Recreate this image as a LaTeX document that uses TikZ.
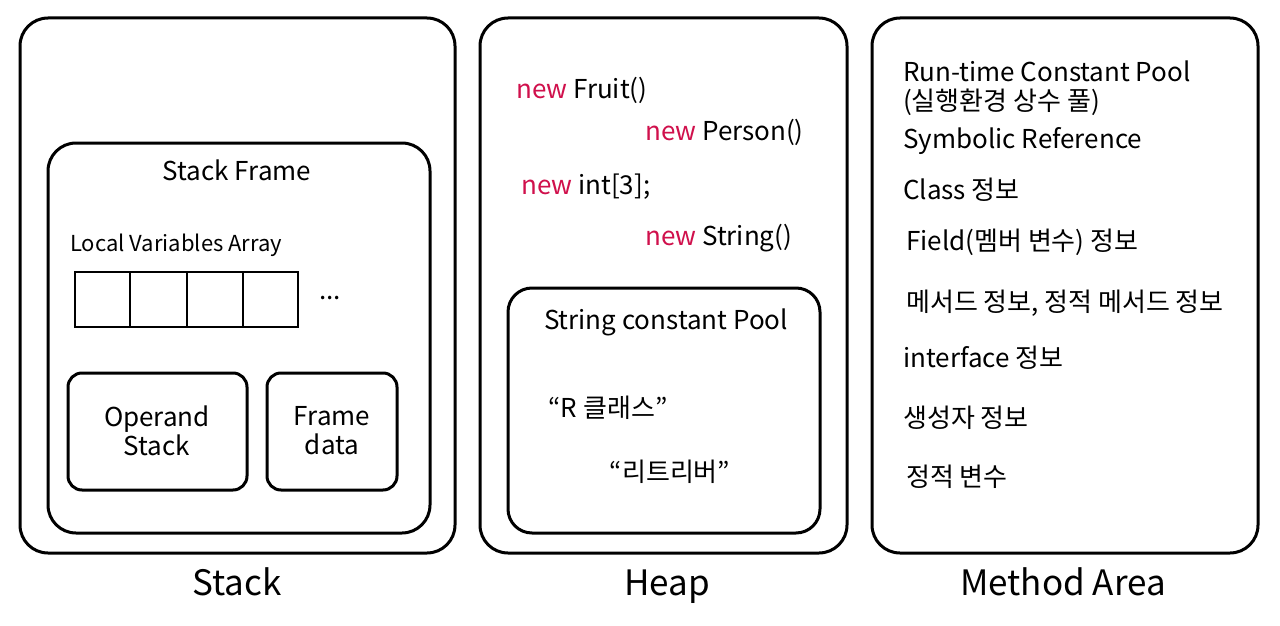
\documentclass[tikz,border=0pt]{standalone}
\usepackage{fontspec}
\setmainfont{Noto Sans CJK KR}
\begin{document}
\begin{tikzpicture}[x=1pt,y=-1pt,
  box/.style={draw=black,line width=3pt,rounded corners=28pt},
  cell/.style={draw=black,line width=2pt},
  txt/.style={font=\fontsize{26}{29}\selectfont,inner sep=0pt},
  big/.style={font=\fontsize{35}{40}\selectfont,inner sep=0pt,anchor=base}]
\definecolor{kw}{HTML}{D0104C}
\useasboundingbox[fill=white] (0,0) rectangle (1280,626);
% Stack
\draw[box] (20,18) rectangle (455,553);
\draw[box] (48,143) rectangle (430,533);
\node[txt] (sf) at (237,170) {Stack Frame};
\node[txt,anchor=west,font=\fontsize{22}{26}\selectfont] (lva) at (70,245) {Local Variables Array};
\foreach \a/\b in {75/130,130/187,187/243,243/298}{\draw[cell] (\a,272) rectangle (\b,327);}
\node[txt] (dots) at (330,298) {...};
\draw[box,rounded corners=14pt] (68,373) rectangle (247,490);
\node[txt,align=center] (os) at (157,431) {Operand\\Stack};
\draw[box,rounded corners=14pt] (267,373) rectangle (397,490);
\node[txt,align=center] (fd) at (332,431) {Frame\\data};
\node[big] (ls) at (237,595) {Stack};
% Heap
\draw[box] (480,18) rectangle (847,553);
\node[txt,anchor=west] (n1) at (516,90) {\textcolor{kw}{new} Fruit()};
\node[txt,anchor=west] (n2) at (645,132) {\textcolor{kw}{new} Person()};
\node[txt,anchor=west] (n3) at (521,187) {\textcolor{kw}{new} int[3];};
\node[txt,anchor=west] (n4) at (645,238) {\textcolor{kw}{new} String()};
\draw[box,rounded corners=24pt] (508,288) rectangle (820,533);
\node[txt] (scp) at (666,322) {String constant Pool};
\node[txt] (r1) at (608,408) {“R 클래스”};
\node[txt] (r2) at (670,472) {“리트리버”};
\node[big] (lh) at (667,595) {Heap};
% Method
\draw[box] (872,18) rectangle (1258,553);
\node[txt,anchor=west,align=left] (m1) at (903,88) {Run-time Constant Pool\\(실행환경 상수 풀)};
\node[txt,anchor=west] (m2) at (903,141) {Symbolic Reference};
\node[txt,anchor=west] (m3) at (903,190) {Class 정보};
\node[txt,anchor=west] (m4) at (906,242) {Field(멤버 변수) 정보};
\node[txt,anchor=west] (m5) at (906,303) {메서드 정보, 정적 메서드 정보};
\node[txt,anchor=west] (m6) at (903,358) {interface 정보};
\node[txt,anchor=west] (m7) at (903,418) {생성자 정보};
\node[txt,anchor=west] (m8) at (906,477) {정적 변수};
\node[big] (lm) at (1063,595) {Method Area};
\end{tikzpicture}
\end{document}
